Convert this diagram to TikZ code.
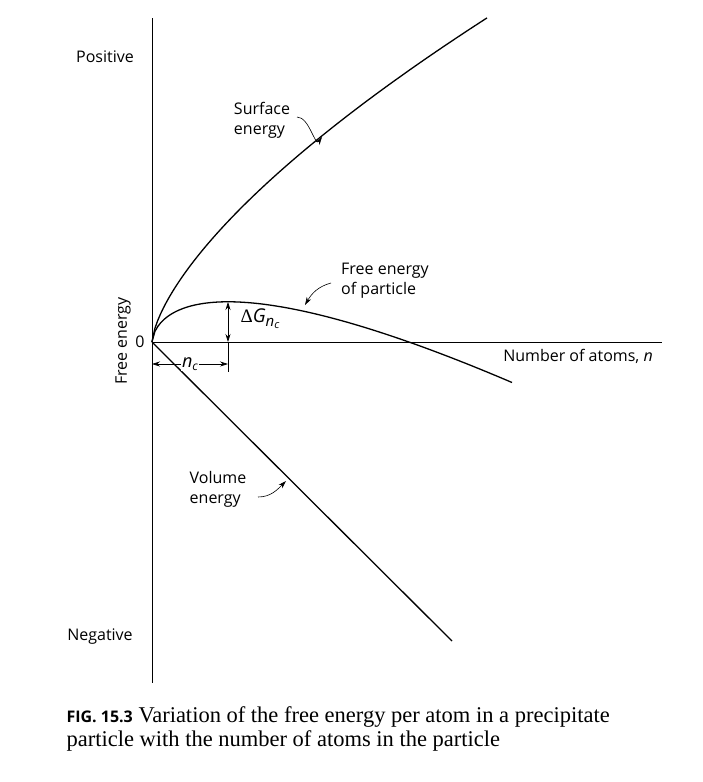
\documentclass[tikz,border=0pt]{standalone}
\usepackage{fontspec}
\setmainfont{Open Sans}
\newfontfamily\capfont{Liberation Serif}
\usetikzlibrary{arrows.meta}
\begin{document}
\begin{tikzpicture}[x=1pt,y=-1pt,
  lbl/.style={font=\fontsize{16}{20}\selectfont, align=left},
  curve/.style={line width=1.3pt},
  leader/.style={line width=0.6pt,-{Stealth[length=8pt,width=5pt]}},
  dim/.style={line width=0.6pt,{Stealth[length=8pt,width=5pt]}-{Stealth[length=8pt,width=5pt]}}]
\useasboundingbox (0,0) rectangle (702,782);
\coordinate (O) at (152,342);
\coordinate (top) at (152,18);
\coordinate (bot) at (152,683);
\coordinate (right) at (662,342);
\draw[line width=0.7pt] (top) -- (bot);
\draw[line width=0.7pt] (O) -- (right);
\node[lbl] (pos) at (105,57) {Positive};
\node[lbl] (neg) at (100,637) {Negative};
\node[lbl, rotate=90] (fe) at (123,341) {Free energy};
\node[lbl] (zero) at (140,342) {0};
\node[lbl] (nx) at (578,356) {Number of atoms, \textit{n}};
% curves
\draw[curve] (O) -- plot[domain=0.01:335, samples=120] ({\x+152}, {342-6.72*(\x)^(2/3)});
\draw[curve] (O) -- (452,641);
\draw[curve] (O) -- plot[domain=0.01:360, samples=120] ({\x+152}, {342-6.72*(\x)^(2/3)+1.057*\x});
% labels with leaders
\node[lbl] (se) at (262,120) {Surface\\energy};
\coordinate (seA) at (297,117);
\coordinate (seB) at (322,137);
\draw[leader] (seA) to[out=0,in=235] (seB);
\node[lbl] (fp) at (385,281) {Free energy\\of particle};
\coordinate (fpA) at (331,283);
\coordinate (fpB) at (305,305);
\draw[leader] (fpA) to[out=195,in=60] (fpB);
\node[lbl] (ve) at (218,489) {Volume\\energy};
\coordinate (veA) at (258,497);
\coordinate (veB) at (286,481);
\draw[leader] (veA) to[out=0,in=225] (veB);
% dimensions
\coordinate (pk) at (228,302);
\coordinate (pkb) at (228,342);
\coordinate (tk) at (228,372);
\draw[line width=0.6pt] (pkb) -- (tk);
\draw[dim] (pk) -- (pkb);
\node[lbl] (dg) at (260,319) {\fontsize{19}{20}\selectfont{\capfont Δ}\textit{G}\raisebox{-4pt}{\fontsize{15}{15}\selectfont\textit{n}\raisebox{-2pt}{\fontsize{11}{11}\selectfont\textit{c}}}};
\coordinate (nl) at (152,364);
\coordinate (nr) at (228,364);
\draw[dim] (nl) -- node[fill=white, inner sep=1pt] (nc) {\fontsize{18}{20}\selectfont\textit{n}\raisebox{-3pt}{\fontsize{12}{12}\selectfont\textit{c}}} (nr);
% caption
\node[anchor=west, align=left, font=\capfont\fontsize{22.5}{24}\selectfont] (cap) at (63,729)
 {{\fontspec{Open Sans}\bfseries\fontsize{16}{18}\selectfont FIG. 15.3} Variation of the free energy per atom in a precipitate\\particle with the number of atoms in the particle};
\end{tikzpicture}
\end{document}
